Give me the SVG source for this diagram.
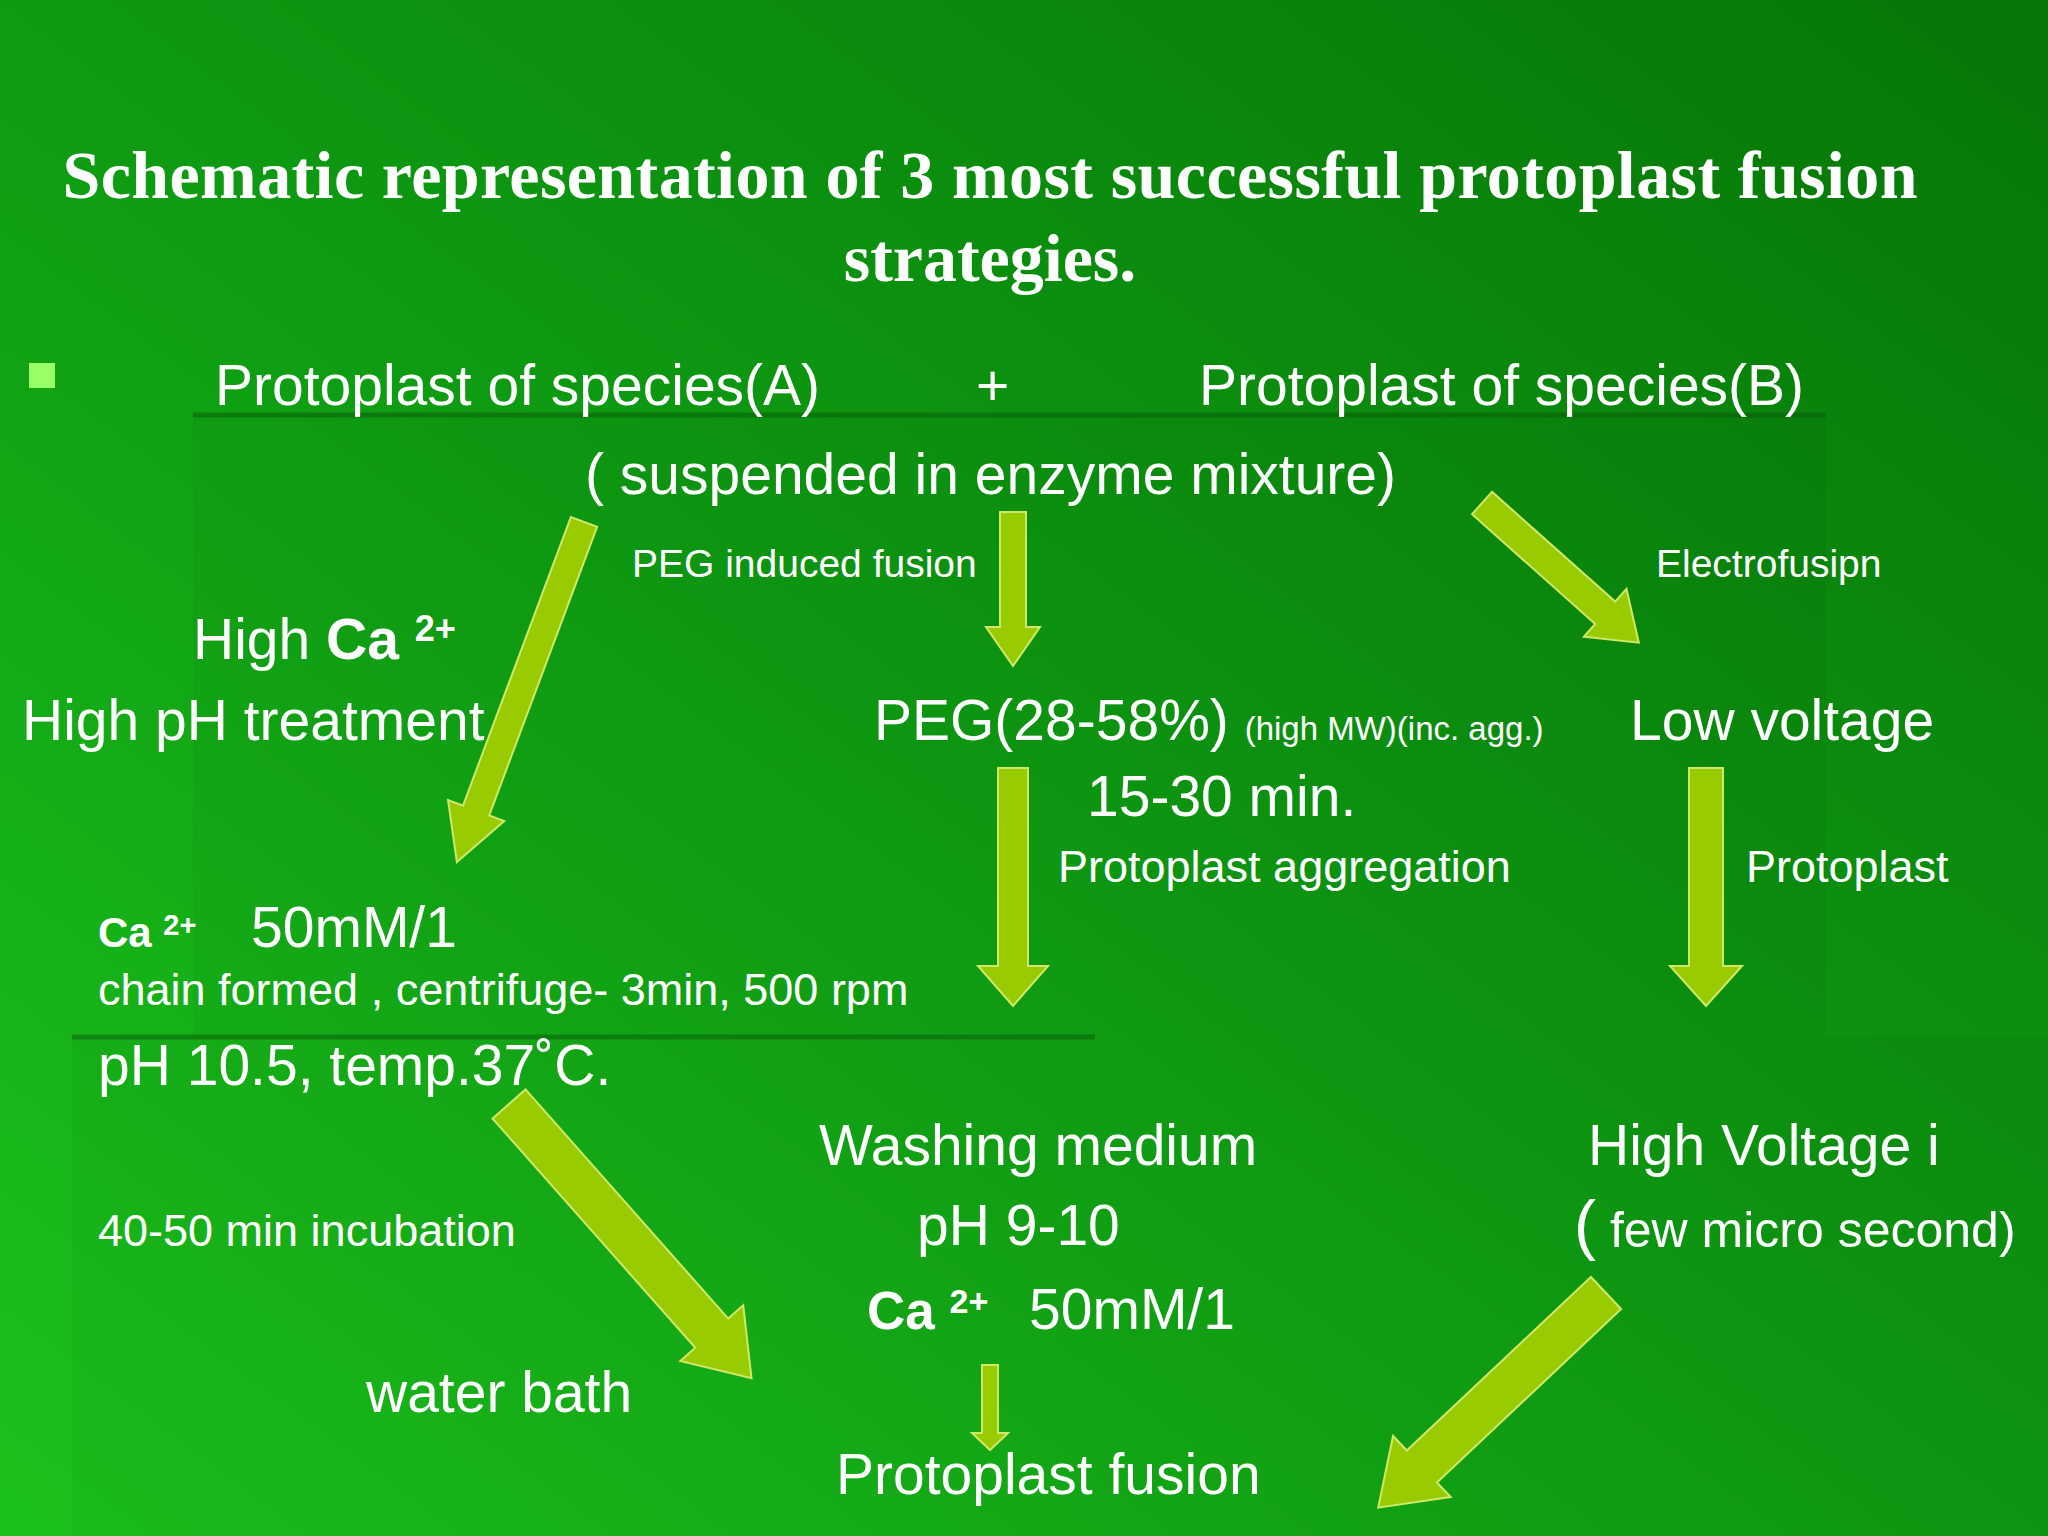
<svg xmlns="http://www.w3.org/2000/svg" width="2048" height="1536" viewBox="0 0 2048 1536">
<defs>
<linearGradient id="bg" x1="1" y1="0" x2="0" y2="1">
<stop offset="0" stop-color="#067506"/>
<stop offset="0.5" stop-color="#0e9a12"/>
<stop offset="1" stop-color="#1cc21c"/>
</linearGradient>
<style>
text{fill:#fff;font-family:"Liberation Sans",Arial,sans-serif}
.t{font-family:"Liberation Serif","Times New Roman",serif;font-weight:bold;font-size:68px}
.l{font-size:57px}
.m{font-size:45px}
.s{font-size:39px}
.a{fill:#99cc00;stroke:#cfe86a;stroke-width:2}
</style>
</defs>
<rect width="2048" height="1536" fill="url(#bg)"/>
<rect x="193" y="415" width="1633" height="622" fill="#000" opacity="0.03"/>
<line x1="193" y1="415" x2="1826" y2="415" stroke="#0a5a0a" stroke-width="5" opacity="0.5"/>
<rect x="72" y="1037" width="1976" height="499" fill="#000" opacity="0.03"/>
<line x1="72" y1="1037" x2="1095" y2="1037" stroke="#0a5a0a" stroke-width="5" opacity="0.5"/>
<g id="title">
<text class="t" x="990" y="198" text-anchor="middle" textLength="1855">Schematic representation of  3 most successful protoplast fusion</text>
<text class="t" x="990" y="281" text-anchor="middle">strategies.</text>
</g>
<rect x="29" y="363" width="26" height="25" fill="#99ff66"/>
<g id="top">
<text class="l" x="215" y="405">Protoplast of species(A)</text>
<text class="l" x="976" y="405">+</text>
<text class="l" x="1199" y="405">Protoplast of species(B)</text>
<text class="l" x="585" y="494">( suspended in enzyme mixture)</text>
</g>
<g id="labels">
<text class="s" x="632" y="577">PEG induced fusion</text>
<text class="s" x="1656" y="577">Electrofusipn</text>
<text class="l" x="193" y="659">High <tspan font-weight="bold">Ca</tspan> <tspan font-size="36" font-weight="bold" dy="-18">2+</tspan></text>
<text class="l" x="22" y="740">High pH treatment</text>
<text class="l" x="874" y="740">PEG(28-58%) <tspan font-size="33">(high MW)(inc. agg.)</tspan></text>
<text class="l" x="1630" y="740">Low voltage</text>
<text class="l" x="1087" y="816" font-size="50">15-30 min.</text>
<text class="m" x="1058" y="882">Protoplast aggregation</text>
<text class="m" x="1746" y="882">Protoplast</text>
<text x="98" y="947" font-size="42" font-weight="bold">Ca <tspan font-size="29" dy="-12">2+</tspan></text>
<text class="l" x="251" y="947">50mM/1</text>
<text class="m" x="98" y="1005">chain formed  , centrifuge- 3min, 500 rpm</text>
<text class="l" x="98" y="1085">pH 10.5, temp.37˚C.</text>
<text class="m" x="98" y="1246">40-50 min incubation</text>
<text class="l" x="366" y="1412">water bath</text>
<text class="l" x="819" y="1165">Washing medium</text>
<text class="l" x="917" y="1245">pH 9-10</text>
<text x="867" y="1329" font-size="53" font-weight="bold">Ca <tspan font-size="34" dy="-16">2+</tspan></text>
<text class="l" x="1029" y="1329">50mM/1</text>
<text class="l" x="836" y="1494">Protoplast fusion</text>
<text class="l" x="1588" y="1165">High Voltage i</text>
<text x="1574" y="1247" font-size="50"><tspan font-size="66">(</tspan> few micro second)</text>
</g>
<g id="connectors">
<g transform="translate(584,522) rotate(110.5)"><polygon class="a" points="0,-14 308,-14 308,-30 363,0 308,30 308,14 0,14"/></g>
<g transform="translate(1013,512) rotate(90)"><polygon class="a" points="0,-13 115,-13 115,-27 154,0 115,27 115,13 0,13"/></g>
<g transform="translate(1482,503) rotate(41.7)"><polygon class="a" points="0,-15 165,-15 165,-32 210,0 165,32 165,15 0,15"/></g>
<g transform="translate(1013,768) rotate(90)"><polygon class="a" points="0,-15 198,-15 198,-35 238,0 198,35 198,15 0,15"/></g>
<g transform="translate(1706,768) rotate(90)"><polygon class="a" points="0,-17 198,-17 198,-36 238,0 198,36 198,17 0,17"/></g>
<g transform="translate(509,1104) rotate(48.5)"><polygon class="a" points="0,-22 306,-22 306,-42 366,0 306,42 306,22 0,22"/></g>
<g transform="translate(990,1365) rotate(90)"><polygon class="a" points="0,-8 68,-8 68,-18 85,0 68,18 68,8 0,8"/></g>
<g transform="translate(1606,1293) rotate(136.7)"><polygon class="a" points="0,-22 253,-22 253,-42 313,0 253,42 253,22 0,22"/></g>
</g>
</svg>
